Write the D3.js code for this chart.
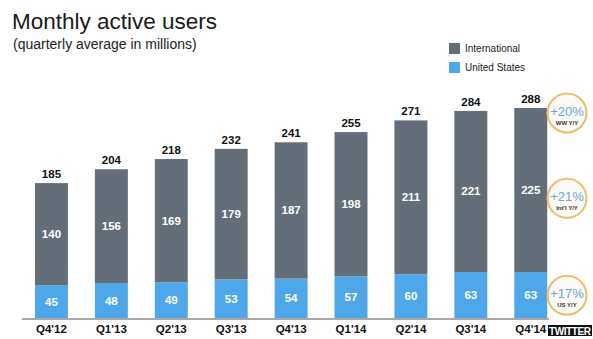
<!DOCTYPE html>
<html>
<head>
<meta charset="utf-8">
<script src="https://cdn.jsdelivr.net/npm/d3@7"></script>
<style>
  body { margin: 0; background: #fff; }
  svg { display: block; font-family: "Liberation Sans", Arial, sans-serif; }
</style>
</head>
<body>
<svg width="593" height="339"></svg>
<script>
// Quarterly monthly active users, millions
const quarters = ["Q4'12", "Q1'13", "Q2'13", "Q3'13", "Q4'13", "Q1'14", "Q2'14", "Q3'14", "Q4'14"];
const usUsers = [45, 48, 49, 53, 54, 57, 60, 63, 63];
const intlUsers = [140, 156, 169, 179, 187, 198, 211, 221, 225];
const totals = [185, 204, 218, 232, 241, 255, 271, 284, 288];

const growthValues = ["+20%", "+21%", "+17%"];
const growthNames = ["WW Y/Y", "Int'l Y/Y", "US Y/Y"];
const growthLevels = [288, 171, 38]; // where each bubble sits on the value axis

const seriesNames = ["International", "United States"];
const colors = { International: "#636e78", "United States": "#4ea7e8" };

const svg = d3.select("svg");
const baseY = 318;

const rows = quarters.map((q, i) => ({
    quarter: q,
    "United States": usUsers[i],
    International: intlUsers[i],
    total: totals[i]
}));

const stack = d3.stack().keys(["United States", "International"]);
const layers = stack(rows);

const x = d3.scaleBand()
    .domain(quarters)
    .range([18.2, 564])
    .paddingInner(0.45)
    .paddingOuter(0.28);

const y = d3.scaleLinear()
    .domain([0, 288])
    .range([baseY, 108]);

// title
svg.append("text")
    .attr("x", 12).attr("y", 29)
    .attr("font-size", 22.5)
    .attr("fill", "#1a1a1a")
    .text("Monthly active users");
svg.append("text")
    .attr("x", 13).attr("y", 49)
    .attr("font-size", 14)
    .attr("fill", "#222")
    .text("(quarterly average in millions)");

// legend
const legend = svg.append("g").selectAll("g")
    .data(seriesNames)
    .enter().append("g")
    .attr("transform", (d, i) => `translate(449,${43 + i * 19})`);
legend.append("rect")
    .attr("width", 11).attr("height", 11)
    .attr("fill", d => colors[d]);
legend.append("text")
    .attr("x", 16).attr("y", 9)
    .attr("font-size", 10)
    .attr("fill", "#222")
    .text(d => d);

// stacked bars
const layer = svg.append("g").selectAll("g")
    .data(layers)
    .enter().append("g")
    .attr("fill", d => colors[d.key]);

layer.selectAll("rect")
    .data(d => d)
    .enter().append("rect")
    .attr("x", d => x(d.data.quarter))
    .attr("width", x.bandwidth())
    .attr("y", d => y(d[1]))
    .attr("height", d => y(d[0]) - y(d[1]));

layer.selectAll("text")
    .data(d => d.map(v => ({ v, key: d.key })))
    .enter().append("text")
    .attr("x", d => x(d.v.data.quarter) + x.bandwidth() / 2)
    .attr("y", d => (y(d.v[0]) + y(d.v[1])) / 2 + 4)
    .attr("text-anchor", "middle")
    .attr("font-size", 11.5)
    .attr("font-weight", "bold")
    .attr("fill", "#fff")
    .text(d => d.v.data[d.key]);

// totals above bars
svg.append("g").selectAll("text")
    .data(rows)
    .enter().append("text")
    .attr("x", d => x(d.quarter) + x.bandwidth() / 2)
    .attr("y", d => y(d.total) - 5)
    .attr("text-anchor", "middle")
    .attr("font-size", 11.5)
    .attr("font-weight", "bold")
    .attr("fill", "#111")
    .text(d => d.total);

// baseline and quarter labels
svg.append("line")
    .attr("x1", 22).attr("x2", 549)
    .attr("y1", baseY + 1).attr("y2", baseY + 1)
    .attr("stroke", "#a8a8a8")
    .attr("stroke-width", 2);

const xAxis = svg.append("g")
    .attr("transform", `translate(0,${baseY + 1})`)
    .call(d3.axisBottom(x).tickSize(0).tickPadding(6));
xAxis.select(".domain").remove();
xAxis.selectAll("text")
    .attr("font-size", 11.5)
    .attr("font-weight", "bold")
    .attr("fill", "#111")
    .attr("font-family", "Liberation Sans, Arial, sans-serif");

// year-over-year bubbles
const bubble = svg.append("g").selectAll("g")
    .data(growthValues.map((v, i) => ({ v, name: growthNames[i], level: growthLevels[i] })))
    .enter().append("g")
    .attr("transform", d => `translate(567,${y(d.level) + 5})`);
bubble.append("circle")
    .attr("r", 19.5)
    .attr("fill", "#fbfaf6")
    .attr("stroke", "#ebbd6c")
    .attr("stroke-width", 2);
bubble.append("text")
    .attr("y", 3)
    .attr("text-anchor", "middle")
    .attr("font-size", 13)
    .attr("fill", "#6aa7da")
    .text(d => d.v);
bubble.append("text")
    .attr("y", 11.5)
    .attr("text-anchor", "middle")
    .attr("font-size", 6)
    .attr("font-weight", "bold")
    .attr("fill", "#333")
    .text(d => d.name);

// source badge
svg.append("rect")
    .attr("x", 548).attr("y", 325)
    .attr("width", 44).attr("height", 11)
    .attr("fill", "#111");
svg.append("text")
    .attr("x", 570).attr("y", 334.5)
    .attr("text-anchor", "middle")
    .attr("font-size", 10)
    .attr("font-weight", "bold")
    .attr("fill", "#fff")
    .attr("textLength", 42)
    .text("TWITTER");
</script>
</body>
</html>
